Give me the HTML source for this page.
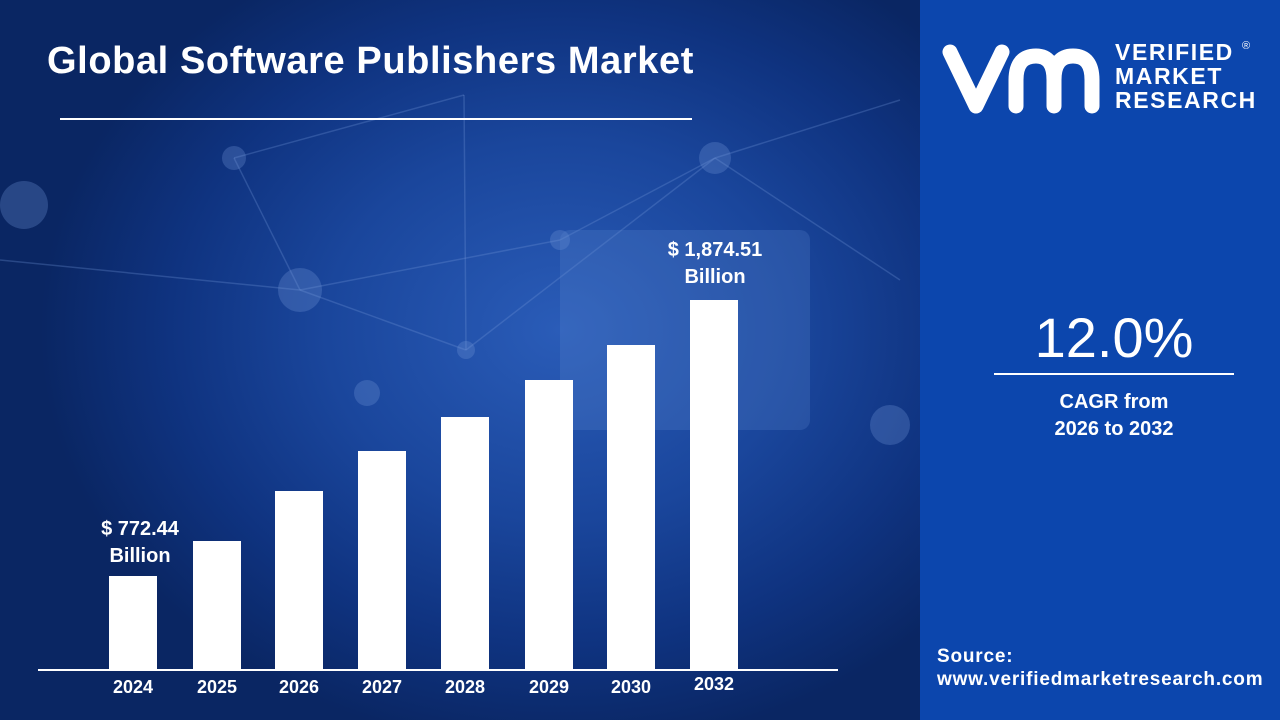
<!DOCTYPE html>
<html><head><meta charset="utf-8"><style>
*{margin:0;padding:0;box-sizing:border-box}
body{width:1280px;height:720px;overflow:hidden;font-family:"Liberation Sans",sans-serif;position:relative;background:#0a2560}
#left{position:absolute;left:0;top:0;width:920px;height:720px;
background:radial-gradient(ellipse 520px 420px at 560px 330px,#2a5cb8 0%,#1a469c 45%,#0f3380 75%,#0a2663 100%)}
#right{position:absolute;left:920px;top:0;width:360px;height:720px;background:#0c46ad}
.t{position:absolute;color:#fff;font-weight:bold}
.bar{position:absolute;background:#fff;width:48px}
.yr{position:absolute;top:677px;width:80px;text-align:center;color:#fff;font-weight:bold;font-size:18px}
</style></head><body>
<div id="left">
<svg width="920" height="720" style="position:absolute;left:0;top:0">
<g stroke="#6f94d6" stroke-opacity="0.3" stroke-width="1.5" fill="none">
<line x1="0" y1="260" x2="300" y2="290"/><line x1="234" y1="158" x2="300" y2="290"/>
<line x1="234" y1="158" x2="464" y2="95"/><line x1="300" y1="290" x2="466" y2="350"/>
<line x1="464" y1="95" x2="466" y2="350"/><line x1="466" y1="350" x2="715" y2="158"/>
<line x1="715" y1="158" x2="900" y2="100"/><line x1="715" y1="158" x2="900" y2="280"/>
<line x1="300" y1="290" x2="560" y2="240"/><line x1="560" y1="240" x2="715" y2="158"/>
</g>
<g fill="#6f94d6" fill-opacity="0.3">
<circle cx="234" cy="158" r="12"/><circle cx="300" cy="290" r="22"/><circle cx="466" cy="350" r="9"/>
<circle cx="715" cy="158" r="16"/><circle cx="24" cy="205" r="24"/><circle cx="367" cy="393" r="13"/>
<circle cx="890" cy="425" r="20"/><circle cx="560" cy="240" r="10"/>
</g>
<rect x="560" y="230" width="250" height="200" rx="10" fill="#5a86d0" fill-opacity="0.25"/>
</svg>
<div class="t" style="left:47px;top:40px;font-size:38px;letter-spacing:0.6px">Global Software Publishers Market</div>
<div style="position:absolute;left:60px;top:118px;width:632px;height:2px;background:#fff"></div>
<div class="t" style="left:80px;top:516px;width:120px;text-align:center;font-size:20px;line-height:27px">$ 772.44<br>Billion</div>
<div class="t" style="left:650px;top:237px;width:130px;text-align:center;font-size:20px;line-height:27px">$ 1,874.51<br>Billion</div>
<div class="bar" style="left:109px;top:576px;height:93px"></div>
<div class="bar" style="left:193px;top:541px;height:128px"></div>
<div class="bar" style="left:275px;top:491px;height:178px"></div>
<div class="bar" style="left:358px;top:451px;height:218px"></div>
<div class="bar" style="left:441px;top:417px;height:252px"></div>
<div class="bar" style="left:525px;top:380px;height:289px"></div>
<div class="bar" style="left:607px;top:345px;height:324px"></div>
<div class="bar" style="left:690px;top:300px;height:369px"></div>
<div style="position:absolute;left:38px;top:669px;width:800px;height:2px;background:#fff"></div>
<div class="yr" style="left:93px">2024</div>
<div class="yr" style="left:177px">2025</div>
<div class="yr" style="left:259px">2026</div>
<div class="yr" style="left:342px">2027</div>
<div class="yr" style="left:425px">2028</div>
<div class="yr" style="left:509px">2029</div>
<div class="yr" style="left:591px">2030</div>
<div class="yr" style="left:674px;top:674px">2032</div>
</div>
<div id="right">
<svg width="170" height="80" style="position:absolute;left:22px;top:38px" viewBox="0 0 170 80">
<path d="M8 14 L34 68 L60 14" stroke="#fff" stroke-width="15" fill="none" stroke-linecap="round" stroke-linejoin="round"/>
<path d="M74 68 V42 Q74 18 94 18 Q112 18 112 42 V68 M112 42 Q112 18 131 18 Q150 18 150 42 V68" stroke="#fff" stroke-width="15" fill="none" stroke-linecap="round"/>
</svg>
<div class="t" style="left:195px;top:40px;font-size:23px;line-height:24px;letter-spacing:1.6px">VERIFIED<br>MARKET<br>RESEARCH</div>
<div class="t" style="left:322px;top:40px;font-size:11px;font-weight:normal">®</div>
<div class="t" style="left:74px;top:305px;width:240px;text-align:center;font-size:56px;font-weight:normal">12.0%</div>
<div style="position:absolute;left:74px;top:373px;width:240px;height:2px;background:#fff"></div>
<div class="t" style="left:74px;top:389px;width:240px;text-align:center;font-size:20px;line-height:27px">CAGR from<br>2026 to 2032</div>
<div class="t" style="left:17px;top:645px;font-size:19px;line-height:23px;letter-spacing:0.8px">Source:<br>www.verifiedmarketresearch.com</div>
</div>
</body></html>
